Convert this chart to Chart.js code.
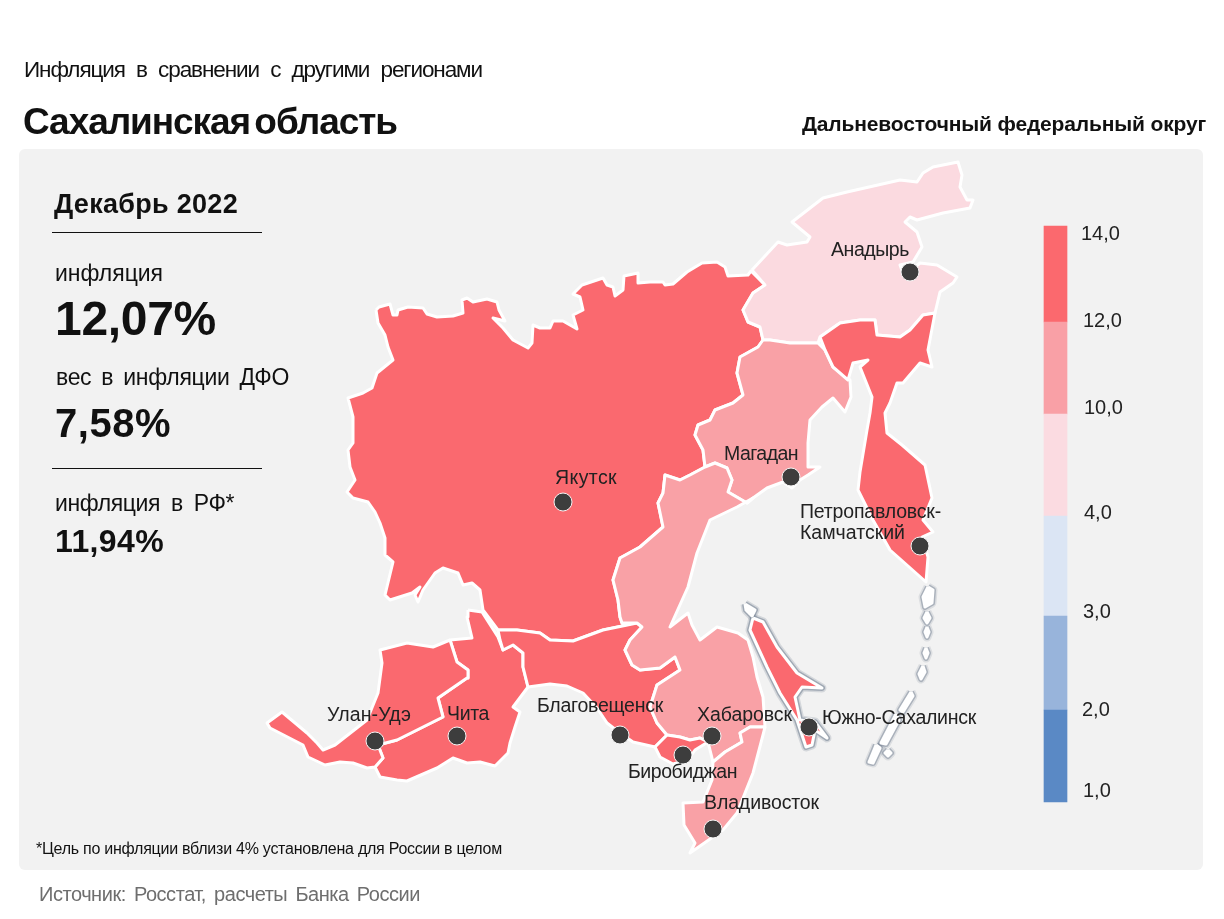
<!DOCTYPE html>
<html lang="ru">
<head>
<meta charset="utf-8">
<title>Инфляция в сравнении с другими регионами</title>
<script src="https://cdn.jsdelivr.net/npm/chart.js@4"></script>
<style>
html,body{margin:0;padding:0;background:#fff}
#page{position:relative;width:1224px;height:919px;overflow:hidden;font-family:"Liberation Sans",Arial,sans-serif;color:#111}
#panel{position:absolute;left:19px;top:149px;width:1184px;height:721px;background:#f2f2f2;border-radius:6px}
canvas{position:absolute;left:0;top:0}
.t{position:absolute;white-space:nowrap;line-height:1;transform:translateY(-50%)}
.rule{position:absolute;left:52px;width:210px;height:1px;background:#111}
</style>
</head>
<body>
<div id="page">
<div id="panel"></div>
<canvas id="map" width="1224" height="919"></canvas>
<div class="t" data-w="458" style="left:24px;top:70px;font-size:22.5px;word-spacing:6px">Инфляция в сравнении с другими регионами</div>
<div class="t" data-w="374" style="left:23px;top:121px;font-size:37px;font-weight:700;word-spacing:-5px">Сахалинская область</div>
<div class="t" data-w="404" style="left:802px;top:123px;font-size:21px;font-weight:700">Дальневосточный федеральный округ</div>
<div class="t" data-w="184" style="left:54px;top:204px;font-size:27px;font-weight:700">Декабрь 2022</div>
<div class="rule" style="top:232px"></div>
<div class="t" data-w="108" style="left:55px;top:273px;font-size:23px">инфляция</div>
<div class="t" data-w="161" style="left:55px;top:319px;font-size:48px;font-weight:700">12,07%</div>
<div class="t" data-w="233" style="left:56px;top:377px;font-size:23px;word-spacing:4px">вес в инфляции ДФО</div>
<div class="t" data-w="116" style="left:55px;top:423px;font-size:40px;font-weight:700">7,58%</div>
<div class="rule" style="top:468px"></div>
<div class="t" data-w="179" style="left:55px;top:503px;font-size:23px;word-spacing:5px">инфляция в РФ*</div>
<div class="t" data-w="109" style="left:55px;top:541px;font-size:32px;font-weight:700">11,94%</div>
<div class="t" data-w="466" style="left:36px;top:849px;font-size:16px">*Цель по инфляции вблизи 4% установлена для России в целом</div>
<div class="t" data-w="381" style="left:39px;top:894px;font-size:20px;color:#6e6e6e;word-spacing:3px">Источник: Росстат, расчеты Банка России</div>
</div>
<script>
/* Region outlines, in map units */
const yakutia = [[376,310],[379,307],[390,304],[393,315],[397,315],[398,310],[408,307],[423,308],[427,314],[437,317],[453,316],[463,313],[462,300],[467,298],[473,302],[487,299],[497,302],[499,310],[505,321],[493,318],[503,328],[513,340],[528,348],[532,343],[533,325],[540,328],[550,328],[553,321],[563,321],[577,329],[573,315],[583,310],[580,297],[573,294],[582,285],[603,278],[607,285],[613,287],[615,296],[623,290],[624,276],[638,273],[638,283],[650,282],[663,282],[665,285],[673,284],[687,272],[702,263],[717,262],[725,267],[728,276],[748,275],[751,271],[765,285],[753,293],[743,310],[748,322],[760,327],[763,340],[758,347],[740,357],[737,373],[743,395],[733,403],[715,410],[710,420],[698,425],[695,435],[703,450],[705,467],[690,475],[680,480],[665,475],[663,493],[658,503],[663,527],[640,547],[620,558],[613,580],[618,600],[620,617],[622,623],[637,623],[603,630],[573,641],[550,640],[540,633],[517,630],[498,630],[483,610],[480,590],[472,583],[463,585],[458,573],[443,568],[435,573],[423,590],[418,602],[415,595],[420,587],[412,593],[390,600],[385,595],[393,562],[385,555],[385,538],[380,523],[375,512],[368,502],[353,498],[347,492],[355,480],[350,467],[348,450],[353,443],[353,417],[348,398],[363,393],[372,388],[377,373],[393,360],[388,347],[385,335],[378,323],[376,310]];
const chukotka = [[752,270],[778,242],[787,245],[807,242],[810,237],[792,222],[823,198],[847,192],[900,180],[917,182],[923,173],[933,167],[958,162],[962,175],[960,187],[967,200],[973,200],[970,208],[943,213],[917,220],[910,217],[905,222],[917,232],[922,247],[913,262],[900,265],[904,276],[920,263],[937,265],[957,277],[953,283],[940,292],[935,313],[923,315],[910,330],[900,337],[877,335],[875,320],[860,320],[840,323],[820,337],[818,343],[790,343],[770,340],[763,340],[760,327],[748,322],[743,310],[753,293],[765,285],[752,270]];
const magadan = [[763,340],[770,340],[790,343],[818,343],[825,350],[833,367],[850,380],[851,397],[845,412],[833,398],[822,407],[810,420],[808,443],[808,467],[820,467],[808,475],[800,480],[792,488],[783,482],[767,488],[753,498],[747,503],[728,492],[732,480],[727,468],[715,463],[705,467],[703,450],[695,435],[698,425],[710,420],[715,410],[733,403],[743,395],[737,373],[740,357],[758,347],[763,340]];
const kamchatka = [[820,337],[840,323],[860,320],[875,320],[877,335],[900,337],[910,330],[923,315],[935,313],[928,350],[932,367],[920,363],[903,383],[897,383],[890,403],[885,413],[887,433],[902,445],[925,465],[932,498],[923,520],[933,532],[922,537],[928,557],[926,582],[890,550],[873,520],[858,490],[860,472],[867,430],[870,413],[872,397],[860,367],[868,360],[853,363],[848,380],[833,367],[825,350],[820,337]];
const khabarovsk = [[705,467],[715,463],[727,468],[732,480],[728,492],[747,503],[753,498],[737,507],[710,520],[697,553],[688,587],[670,627],[688,613],[692,625],[700,640],[717,627],[738,633],[748,640],[753,657],[757,677],[763,697],[765,727],[750,727],[740,733],[742,742],[725,752],[713,762],[710,750],[708,742],[700,738],[690,740],[680,737],[667,735],[657,723],[650,707],[657,685],[680,670],[675,657],[660,668],[640,670],[632,665],[625,650],[630,640],[642,627],[637,623],[622,623],[620,617],[618,600],[613,580],[620,558],[640,547],[663,527],[658,503],[663,493],[665,475],[680,480],[690,475],[705,467]];
const primorye = [[765,727],[750,727],[740,733],[742,742],[725,752],[713,762],[712,780],[703,802],[683,803],[684,825],[695,843],[690,853],[723,830],[737,813],[753,773],[763,735],[765,727]];
const jewish = [[667,735],[680,737],[690,740],[700,738],[708,742],[695,750],[688,760],[673,764],[660,757],[655,747],[667,735]];
const amur = [[498,630],[517,630],[540,633],[550,640],[573,641],[603,630],[637,623],[642,627],[630,640],[625,650],[632,665],[640,670],[660,668],[675,657],[680,670],[657,685],[650,707],[657,723],[667,735],[655,747],[633,742],[620,733],[607,723],[597,708],[583,693],[567,686],[550,684],[528,687],[523,667],[523,653],[513,645],[503,650],[500,640],[498,630]];
const zabaikal = [[468,610],[482,612],[498,637],[503,650],[513,645],[523,653],[523,667],[528,687],[513,707],[520,712],[515,727],[510,743],[508,753],[495,766],[480,762],[467,763],[453,758],[437,768],[407,781],[397,780],[380,777],[375,767],[383,758],[378,745],[397,740],[443,717],[438,698],[467,678],[468,670],[457,662],[450,640],[472,638],[467,617],[468,610]];
const buryatia = [[450,640],[433,647],[407,643],[380,650],[382,663],[378,693],[367,720],[335,745],[323,750],[317,743],[307,733],[282,712],[267,723],[270,728],[303,745],[308,757],[325,765],[340,762],[353,763],[367,768],[375,767],[383,758],[378,745],[397,740],[443,717],[438,698],[467,678],[468,670],[457,662],[450,640]];
const sakhalin = [[753,618],[763,622],[777,647],[797,673],[822,688],[802,687],[795,697],[800,720],[815,722],[827,738],[815,730],[812,745],[806,747],[803,738],[797,720],[780,693],[767,667],[750,630],[753,618]];
const sakhalinTip = [[745,604],[755,610],[752,616],[746,610],[745,604]];
const kurils = [
  [[928,587],[933,590],[932,603],[925,607],[923,597],[928,587]],
  [[927,612],[930,618],[927,623],[924,618],[927,612]],
  [[927,627],[929,632],[927,637],[925,632],[927,627]],
  [[926,648],[928,653],[926,658],[924,653],[926,648]],
  [[923,666],[925,672],[921,679],[919,674],[923,666]],
  [[911,692],[913,696],[903,712],[900,710],[911,692]],
  [[896,714],[899,720],[886,744],[881,743],[896,714]],
  [[876,745],[880,748],[873,763],[869,762],[876,745]],
  [[888,750],[891,753],[888,756],[885,753],[888,750]]
];

/* Capital cities */
const cityNames = ['Анадырь','Якутск','Магадан','Петропавловск-','Улан-Удэ','Чита','Благовещенск','Хабаровск','Южно-Сахалинск','Биробиджан','Владивосток'];
const cityX = [910,563,791,920,375,457,620,712,809,683,713];
const cityY = [272,502,477,546,741,736,735,736,727,755,829];

/* Colour legend */
const legendTicks = ['14,0','12,0','10,0','4,0','3,0','2,0','1,0'];
const legendEdges = [226,322,414,516,616,710,802];

/* Styling and layout, kept apart from the data */
const RED='#fa696f', MID='#f9a1a6', LIGHT='#fbdae0';
const legendColors=['#fb696e','#f9a0a6','#fbdbe1','#dbe5f4','#98b4db','#5a89c5'];
const labelBox=[[831,251,78],[555,479,62],[724,455,74],[800,513,141],[327,716,84],[447,715,42],[537,707,126],[697,716,95],[822,719,154],[628,773,109],[704,804,115]];
const extraLabel={text:'Камчатский',x:800,y:534,w:105};
const legendLabelPos=[[1081,234],[1083,321],[1084,408],[1084,513],[1083,612],[1082,710],[1083,791]];

const pts=a=>a.map(p=>({x:p[0],y:p[1]}));
const region=(data,color)=>({type:'scatter',showLine:true,data:pts(data),backgroundColor:color,borderColor:'#fff',borderWidth:3,borderJoinStyle:'round',fill:'shape',tension:0,pointRadius:0});
const halo=(data,w,a)=>({type:'scatter',showLine:true,data:pts(data),borderColor:`rgba(95,110,130,${a})`,borderWidth:w,borderJoinStyle:'round',fill:false,tension:0,pointRadius:0});

const datasets=[
  {type:'scatter',data:cityX.map((x,i)=>({x,y:cityY[i]})),backgroundColor:'#3d3d3d',borderColor:'#f4f4f4',borderWidth:1,pointRadius:9},
  {type:'bar',data:legendEdges.slice(0,-1).map((e,i)=>({x:1055.5,y:[e,legendEdges[i+1]]})),backgroundColor:legendColors,barThickness:23,borderWidth:0},
  region(sakhalin,RED),
  region(sakhalinTip,'#ffffff'),
  ...kurils.map(k=>region(k,'#ffffff')),
  halo(sakhalin,6,.45),halo(sakhalin,9,.2),
  halo(sakhalinTip,6,.45),halo(sakhalinTip,9,.2),
  ...kurils.map(k=>halo(k,6,.4)),
  ...kurils.map(k=>halo(k,9,.15)),
  region(jewish,RED),
  region(primorye,MID),
  region(khabarovsk,MID),
  region(amur,RED),
  region(buryatia,RED),
  region(zabaikal,RED),
  region(kamchatka,RED),
  region(magadan,MID),
  region(chukotka,LIGHT),
  region(yakutia,RED)
];

const fitText=(ctx,text,x,y,w,font,color)=>{
  ctx.font=font;ctx.fillStyle=color;ctx.textBaseline='middle';ctx.textAlign='left';
  ctx.letterSpacing='0px';
  const m=ctx.measureText(text).width;
  ctx.letterSpacing=((w-m)/text.length).toFixed(3)+'px';
  ctx.fillText(text,x,y);
  ctx.letterSpacing='0px';
};
const labelsPlugin={id:'labels',afterDatasetsDraw(chart){
  const ctx=chart.ctx,f='19.5px "Liberation Sans", Arial, sans-serif';
  ctx.save();
  cityNames.forEach((n,i)=>{const b=labelBox[i];fitText(ctx,n,b[0],b[1],b[2],f,'#222');});
  fitText(ctx,extraLabel.text,extraLabel.x,extraLabel.y,extraLabel.w,f,'#222');
  legendTicks.forEach((t,i)=>{const p=legendLabelPos[i];ctx.font='20px "Liberation Sans", Arial, sans-serif';ctx.fillStyle='#222';ctx.textBaseline='middle';ctx.fillText(t,p[0],p[1]);});
  ctx.restore();
}};

new Chart(document.getElementById('map'),{
  data:{datasets},
  plugins:[labelsPlugin],
  options:{
    responsive:false,animation:false,devicePixelRatio:1,events:[],
    layout:{padding:0,autoPadding:false},
    plugins:{legend:{display:false},tooltip:{enabled:false},title:{display:false}},
    scales:{
      x:{type:'linear',display:false,min:0,max:1224,offset:false},
      y:{type:'linear',display:false,min:0,max:919,reverse:true}
    }
  }
});

document.querySelectorAll('.t').forEach(el=>{
  const w=+el.dataset.w,cur=el.getBoundingClientRect().width,n=el.textContent.length;
  el.style.letterSpacing=((w-cur)/n).toFixed(3)+'px';
});
</script>
</body>
</html>
